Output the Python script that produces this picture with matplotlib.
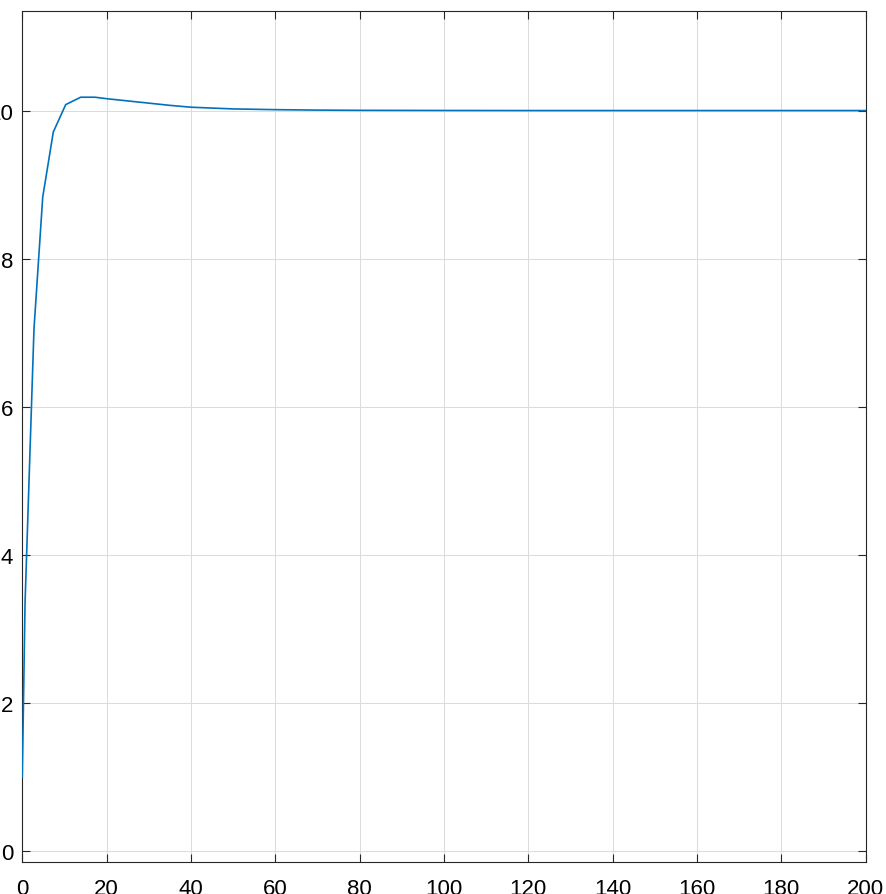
import matplotlib
matplotlib.use("Agg")
import matplotlib.pyplot as plt

# Data (adaptive solver time steps)
t_vals = [0, 0.65, 2.77, 4.84, 7.35, 10.29, 13.85, 17.24, 20, 25, 30, 35, 40,
          50, 60, 70, 80, 100, 120, 150, 200]
y_vals = [1.0, 3.35, 7.05, 8.83, 9.71, 10.08, 10.18, 10.18, 10.16, 10.13, 10.10,
          10.07, 10.045, 10.022, 10.012, 10.006, 10.003, 10.001, 10.0, 10.0, 10.0]
x_ticks = [0, 20, 40, 60, 80, 100, 120, 140, 160, 180, 200]
y_ticks = [0, 2, 4, 6, 8, 10]

plt.rcParams['font.family'] = ['Liberation Sans', 'DejaVu Sans']

W, H = 887, 895
fig = plt.figure(figsize=(W / 100, H / 100), dpi=100)
ax = fig.add_axes([22.3 / W, (H - 863.3) / H, (865.7 - 22.3) / W, (863.3 - 12.3) / H])

ax.plot(t_vals, y_vals, color='#0072BD', linewidth=1.2, zorder=3)

ax.set_xlim(0, 200)
ax.set_ylim(-0.15, 11.34)
ax.set_xticks(x_ticks)
ax.set_yticks(y_ticks)
ax.grid(True, color='#dcdcdc', linewidth=0.75, zorder=0)
ax.set_axisbelow(True)

for s in ax.spines.values():
    s.set_color('#262626')
    s.set_linewidth(0.8)

ax.tick_params(direction='in', length=6, width=0.8, colors='#262626',
               labelcolor='#000000', labelsize=16, top=True, right=True)
ax.tick_params(axis='y', pad=6.5)
ax.tick_params(axis='x', pad=11.5)

fig.savefig('out.png', dpi=100, facecolor='white')
